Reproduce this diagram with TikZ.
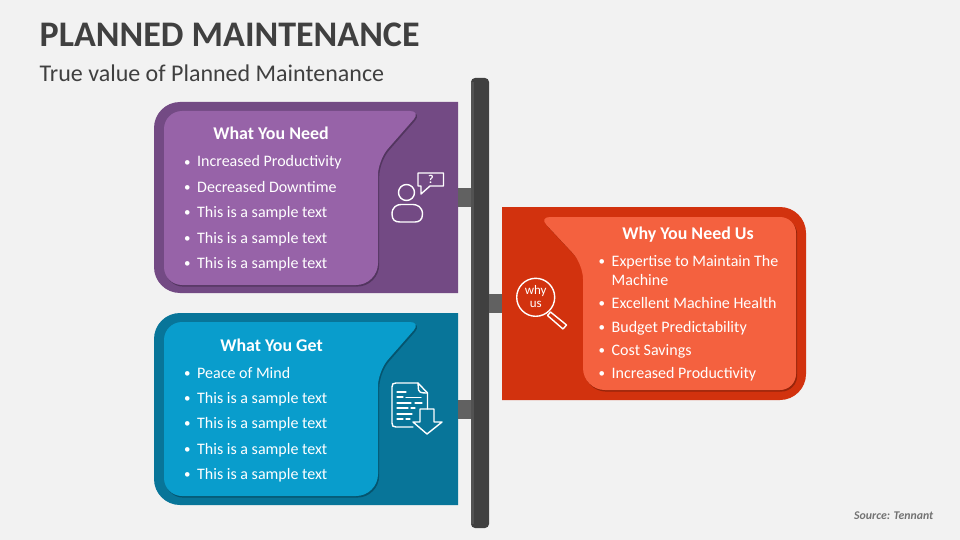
\documentclass[tikz,border=0pt]{standalone}
\usepackage{fontspec}
\setmainfont{Carlito}
\usetikzlibrary{shadows}
\definecolor{pagebg}{HTML}{F2F2F2}
\definecolor{inktitle}{HTML}{404040}
\definecolor{needdark}{HTML}{734A84}
\definecolor{needlight}{HTML}{9763A8}
\definecolor{getdark}{HTML}{087599}
\definecolor{getlight}{HTML}{099DCC}
\definecolor{whydark}{HTML}{D2320E}
\definecolor{whylight}{HTML}{F4613F}
\tikzstyle{titletext} = [text=inktitle, anchor=base west, inner sep=0pt, font=\fontsize{36}{40}\selectfont\bfseries]
\tikzstyle{subtext} = [text=inktitle, anchor=base west, inner sep=0pt, font=\fontsize{24}{26}\selectfont]
\tikzstyle{headtext} = [text=white, anchor=base, inner sep=0pt, font=\fontsize{17.9}{20}\selectfont\bfseries]
\tikzstyle{itemtext} = [text=white, anchor=base west, inner sep=0pt, font=\fontsize{16}{18}\selectfont]
\tikzstyle{sourcetext} = [text=black!55, anchor=east, inner sep=0pt, font=\fontsize{11.8}{12}\selectfont\bfseries\itshape]
\tikzstyle{cardshadow} = [drop shadow={shadow xshift=1.2pt, shadow yshift=-1.6pt, opacity=.28, fill=black}]
\tikzstyle{stub} = [draw=none, fill=black!62]
\tikzstyle{icon} = [draw=white, line width=1.4pt, line join=round, line cap=round]
\newcommand{\itemrow}[1]{\makebox[14pt][l]{\hspace{1pt}\fontsize{13}{13}\selectfont\raisebox{.5pt}{\textbullet}}#1}
\begin{document}
\begin{tikzpicture}[x=1pt,y=-1pt]
    \useasboundingbox[fill=pagebg] (0,0) rectangle (960,540);
    \node[titletext] (title) at (39.5,46.5) {PLANNED MAINTENANCE};
    \node[subtext] (subtitle) at (39.5,81.5) {True value of Planned Maintenance};
    \node[sourcetext] (source) at (933.5,516) {Source: Tennant};

    \fill[needdark] (458,102) [rounded corners=26pt] -- (154,102) -- (154,293) [sharp corners] -- (458,293) -- cycle;
    \fill[getdark] (458,313) [rounded corners=26pt] -- (154,313) -- (154,505) [sharp corners] -- (458,505) -- cycle;
    \fill[whydark] (502,207) [rounded corners=26pt] -- (806,207) -- (806,400) [sharp corners] -- (502,400) -- cycle;

    \node[draw=none, fill=inktitle, rounded corners=4pt, minimum width=18pt, minimum height=450pt, inner sep=0pt] (post) at (480,303) {};
    \fill[black!68] (post.north west) ++(0,4) rectangle ++(3,442);
    \coordinate (needport) at (458,197.5);
    \coordinate (getport) at (458,409);
    \coordinate (whyport) at (502,303.5);
    \path[stub] ([yshift=9.5pt]needport) rectangle ([yshift=-9.5pt]needport -| post.west);
    \path[stub] ([yshift=9.5pt]getport) rectangle ([yshift=-9.5pt]getport -| post.west);
    \path[stub] ([yshift=9.5pt]whyport) rectangle ([yshift=-9.5pt]whyport -| post.east);

    \fill[needlight, cardshadow] (271,111) [rounded corners=11pt] -- (421,111) [rounded corners=15pt] -- (378,160) [rounded corners=22pt] -- (378,285) [rounded corners=18pt] -- (164,285) -- (164,111) -- cycle;
    \fill[getlight, cardshadow] (271,322) [rounded corners=11pt] -- (421,322) [rounded corners=15pt] -- (378,371) [rounded corners=22pt] -- (378,496) [rounded corners=18pt] -- (164,496) -- (164,322) -- cycle;
    \fill[whylight, cardshadow] (690,217) [rounded corners=11pt] -- (539,217) [rounded corners=15pt] -- (583,264) [rounded corners=22pt] -- (583,390) [rounded corners=16pt] -- (796,390) -- (796,217) -- cycle;

    \node[headtext] (needhead) at (271,140) {What You Need};
    \foreach \y/\t [count=\i] in {167/Increased Productivity, 192/Decreased Downtime, 217/This is a sample text, 243/This is a sample text, 268/This is a sample text}
        \node[itemtext] (need\i) at (183,\y) {\itemrow{\t}};

    \node[headtext] (gethead) at (271.5,351) {What You Get};
    \foreach \y/\t [count=\i] in {378/Peace of Mind, 403/This is a sample text, 428/This is a sample text, 454/This is a sample text, 479/This is a sample text}
        \node[itemtext] (get\i) at (183,\y) {\itemrow{\t}};

    \node[headtext] (whyhead) at (688,239) {Why You Need Us};
    \foreach \y/\t [count=\i] in {266/Expertise to Maintain The, 308/Excellent Machine Health, 332/Budget Predictability, 355/Cost Savings, 378/Increased Productivity}
        \node[itemtext] (why\i) at (597.5,\y) {\itemrow{\t}};
    \node[itemtext] (why1b) at (611.5,285) {Machine};

    \draw[icon] (406.5,192.5) circle (8);
    \draw[icon] (392,214) .. controls (392,207) and (397,204.5) .. (401,204.5) -- (413,204.5) .. controls (417,204.5) and (422.5,207) .. (422.5,214) .. controls (422.5,220) and (419,222) .. (415,222) -- (400,222) .. controls (395,222) and (392,220) .. (392,214) -- cycle;
    \draw[icon] (418,173) -- (443.5,173) -- (443.5,186) -- (430,186) -- (421,194) -- (421,186) -- (418,186) -- cycle;
    \node[text=white, inner sep=0pt, font=\fontsize{12}{12}\selectfont\bfseries] (askmark) at (431,179.5) {?};

    \draw[icon] (413,427) -- (396,427) .. controls (393,427) and (392,426) .. (392,423) -- (392,387) .. controls (392,384) and (393,383) .. (396,383) -- (418,383) -- (427.5,393) -- (427.5,409);
    \draw[icon] (418,383) -- (418.5,390) .. controls (419,392) and (420,393) .. (427.5,393);
    \draw[icon] (420,409) -- (434,409) -- (434,422) -- (442,422) -- (427,434) -- (413,422) -- (420,422) -- cycle;
    \draw[icon, line width=1.1pt] (397,392) -- (406,392) (397,397) -- (403,397) (406,397.5) -- (421,397.5) (397,403) -- (411,403) (415,403) -- (422,403) (397,408) -- (408,408) (411,408) -- (415,408) (397,414) -- (412,414) (397,419) -- (403,419) (406,419) -- (410,419);

    \draw[icon] (535.7,297.3) circle (19);
    \draw[icon] (550.5,312) -- (566.5,325) -- (563,329) -- (547.5,315.5) -- cycle;
    \node[align=center, text=white, inner sep=0pt, font=\fontsize{13}{13}\selectfont] (whylabel) at (535.7,297) {why\\us};
\end{tikzpicture}
\end{document}
